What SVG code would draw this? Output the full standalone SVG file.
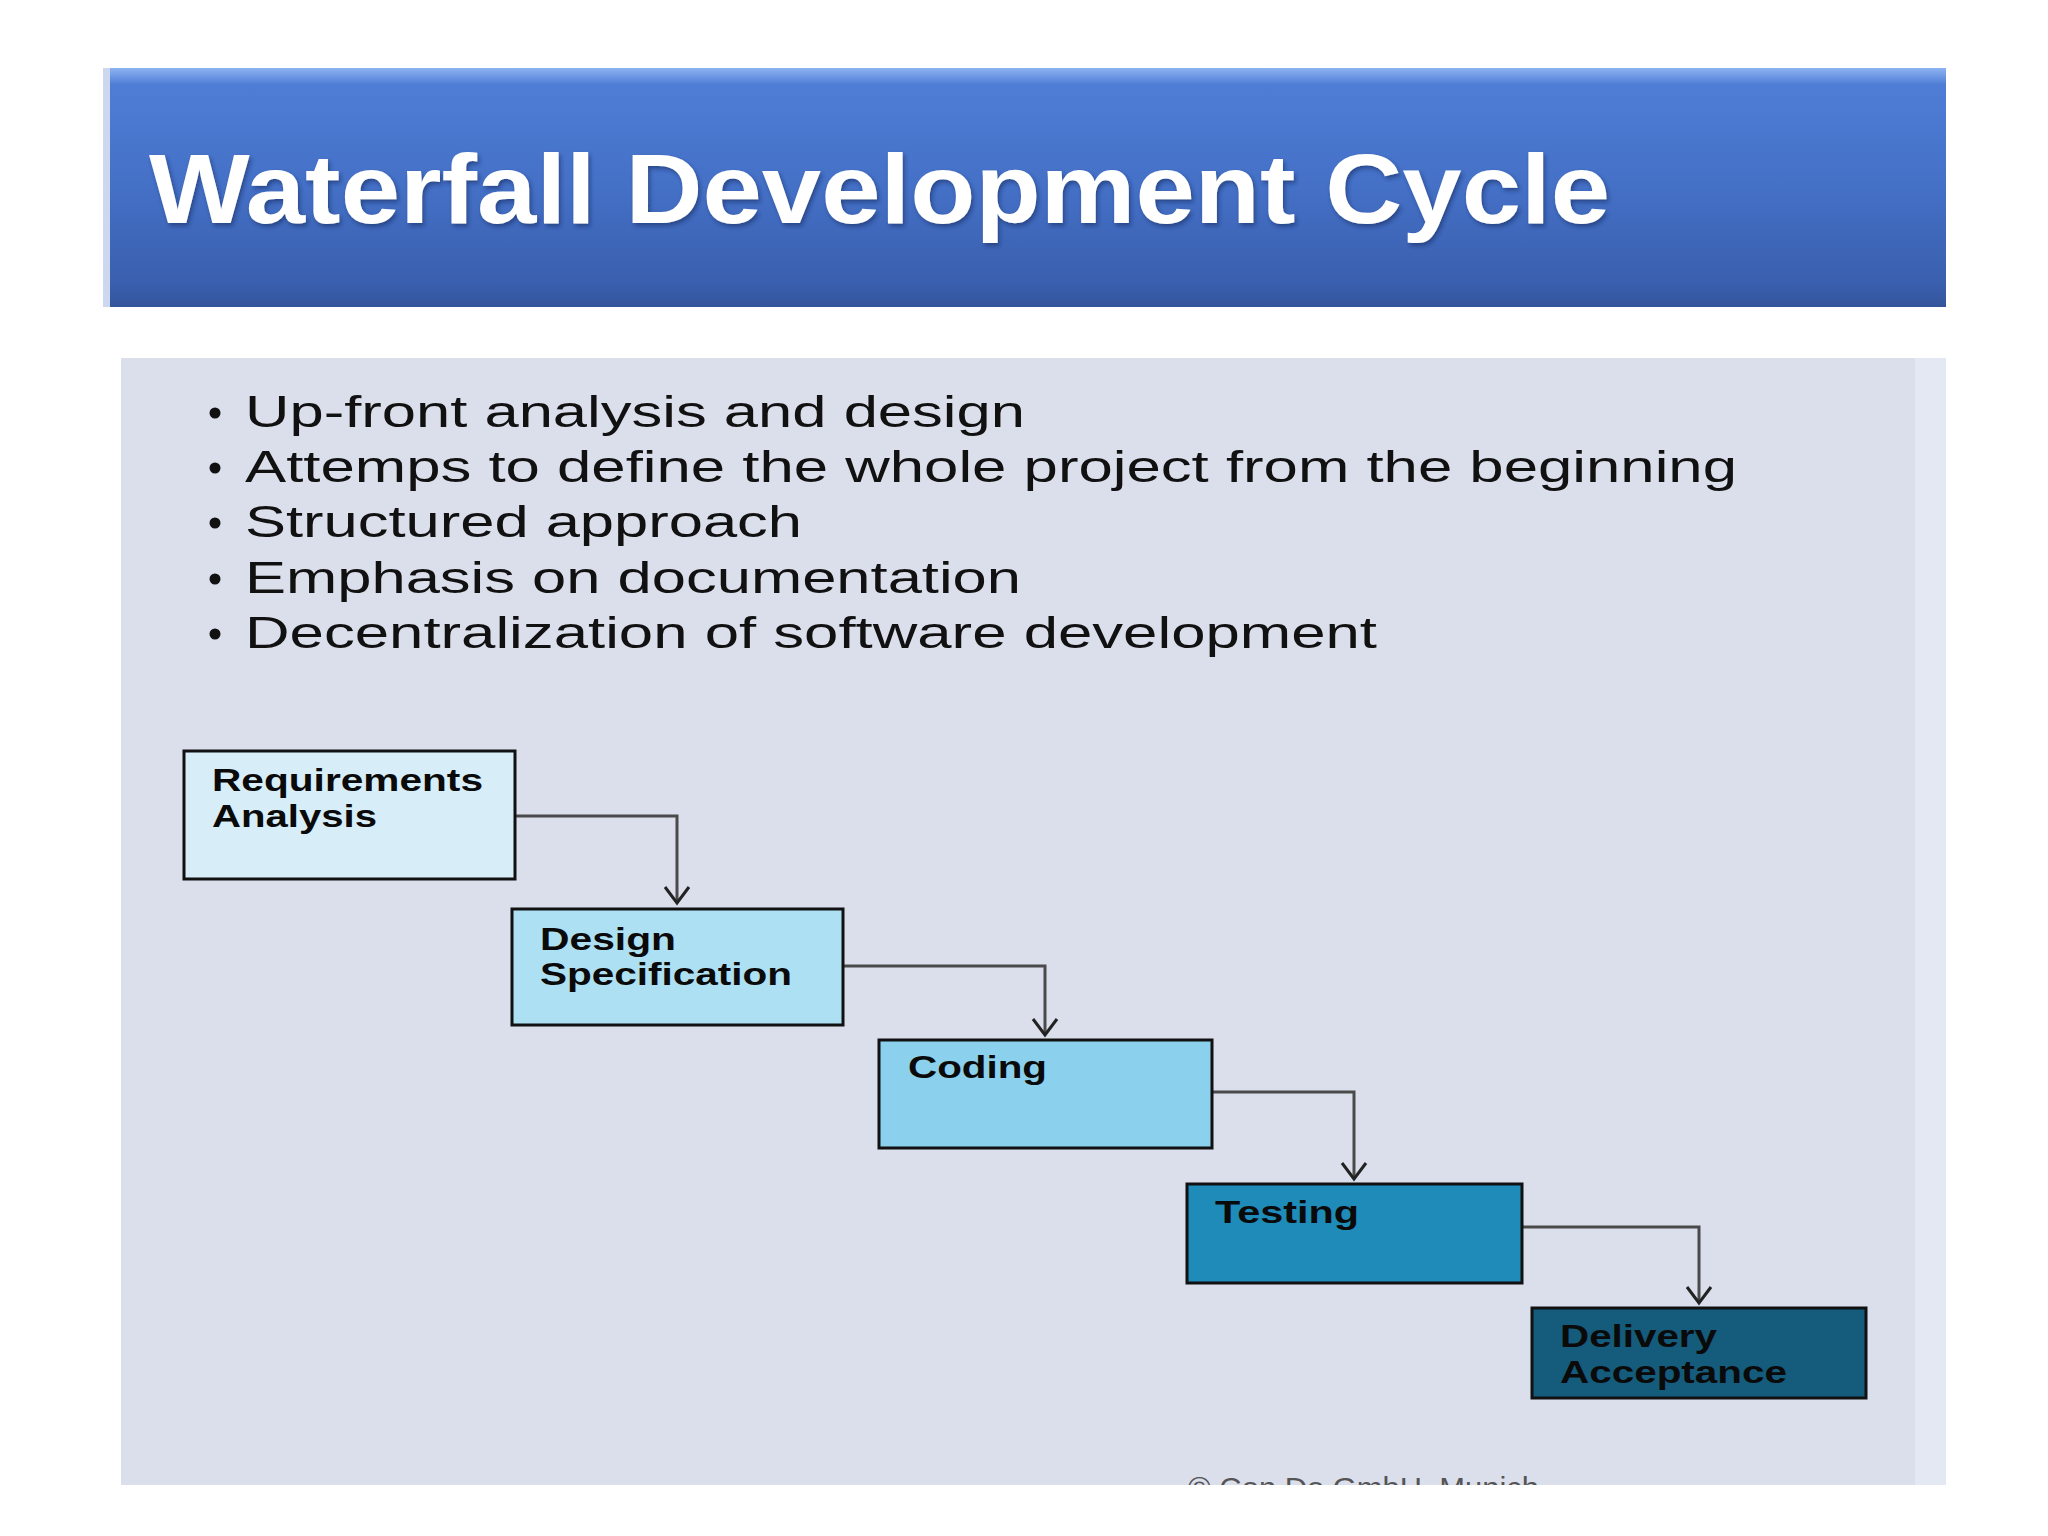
<svg xmlns="http://www.w3.org/2000/svg" width="2048" height="1536" viewBox="0 0 2048 1536">
<defs>
  <linearGradient id="hdr" x1="0" y1="0" x2="0" y2="1">
    <stop offset="0" stop-color="#8db3f2"/>
    <stop offset="0.07" stop-color="#4f7dd6"/>
    <stop offset="0.5" stop-color="#4470c6"/>
    <stop offset="0.9" stop-color="#3a5fae"/>
    <stop offset="1" stop-color="#34559c"/>
  </linearGradient>
  <marker id="arr" viewBox="0 0 24 30" refX="20" refY="15" markerWidth="24" markerHeight="30" markerUnits="userSpaceOnUse" orient="auto">
    <path d="M4,3 L20,15 L4,27" fill="none" stroke="#222" stroke-width="3"/>
  </marker>
  <clipPath id="panelClip"><rect x="121" y="358" width="1825" height="1127"/></clipPath>
  <filter id="shadow" x="-5%" y="-20%" width="110%" height="140%">
    <feGaussianBlur in="SourceAlpha" stdDeviation="2"/>
    <feOffset dx="2" dy="3" result="b"/>
    <feFlood flood-color="#1a2f66" flood-opacity="0.6"/>
    <feComposite in2="b" operator="in"/>
    <feMerge><feMergeNode/><feMergeNode in="SourceGraphic"/></feMerge>
  </filter>
</defs>
<style>
  .bullet { font-family: "Liberation Sans", Arial, sans-serif; font-size: 44px; fill: #111; }
  .node rect { stroke: #111; stroke-width: 3; }
  .node text { font-family: "Liberation Sans", Arial, sans-serif; font-size: 32px; font-weight: bold; fill: #0a0a0a; }
  .conn path { fill: none; stroke: #4a4a4a; stroke-width: 3; }
</style>
<rect width="2048" height="1536" fill="#ffffff"/>

<g id="header">
  <rect x="103" y="68" width="8" height="239" fill="#cdd8ee"/>
  <rect x="110" y="68" width="1836" height="239" fill="url(#hdr)"/>
  <text x="149" y="223" font-family="Liberation Sans, Arial, sans-serif" font-size="98" font-weight="bold" fill="#ffffff" textLength="1461" lengthAdjust="spacingAndGlyphs" filter="url(#shadow)">Waterfall Development Cycle</text>
</g>

<g id="panel">
  <rect x="121" y="358" width="1825" height="1127" fill="#e3e8f2"/>
  <rect x="121" y="358" width="1794" height="1127" fill="#dbdfec"/>
</g>

<g id="bullets">
  <circle cx="215" cy="413" r="5.5" fill="#111"/>
  <text class="bullet" x="245" y="427" textLength="780" lengthAdjust="spacingAndGlyphs">Up-front analysis and design</text>
  <circle cx="215" cy="468" r="5.5" fill="#111"/>
  <text class="bullet" x="245" y="482" textLength="1492" lengthAdjust="spacingAndGlyphs">Attemps to define the whole project from the beginning</text>
  <circle cx="215" cy="523" r="5.5" fill="#111"/>
  <text class="bullet" x="245" y="537" textLength="557" lengthAdjust="spacingAndGlyphs">Structured approach</text>
  <circle cx="215" cy="579" r="5.5" fill="#111"/>
  <text class="bullet" x="245" y="593" textLength="776" lengthAdjust="spacingAndGlyphs">Emphasis on documentation</text>
  <circle cx="215" cy="634" r="5.5" fill="#111"/>
  <text class="bullet" x="245" y="648" textLength="1132" lengthAdjust="spacingAndGlyphs">Decentralization of software development</text>
</g>

<g id="connectors" class="conn">
  <path d="M515,816 H677 V903" marker-end="url(#arr)"/>
  <path d="M843,966 H1045 V1035" marker-end="url(#arr)"/>
  <path d="M1212,1092 H1354 V1179" marker-end="url(#arr)"/>
  <path d="M1508,1227 H1699 V1303" marker-end="url(#arr)"/>
</g>

<g id="node-requirements" class="node">
  <rect x="184" y="751" width="331" height="128" fill="#d7eef9"/>
  <text x="212" y="791" textLength="271" lengthAdjust="spacingAndGlyphs">Requirements</text>
  <text x="212" y="827" textLength="165" lengthAdjust="spacingAndGlyphs">Analysis</text>
</g>

<g id="node-design" class="node">
  <rect x="512" y="909" width="331" height="116" fill="#aee0f3"/>
  <text x="540" y="950" textLength="136" lengthAdjust="spacingAndGlyphs">Design</text>
  <text x="540" y="985" textLength="252" lengthAdjust="spacingAndGlyphs">Specification</text>
</g>

<g id="node-coding" class="node">
  <rect x="879" y="1040" width="333" height="108" fill="#8bd0ec"/>
  <text x="908" y="1078" textLength="139" lengthAdjust="spacingAndGlyphs">Coding</text>
</g>

<g id="node-testing" class="node">
  <rect x="1187" y="1184" width="335" height="99" fill="#1f8bb9"/>
  <text x="1215" y="1223" textLength="144" lengthAdjust="spacingAndGlyphs">Testing</text>
</g>

<g id="node-delivery" class="node">
  <rect x="1532" y="1308" width="334" height="90" fill="#155b7c"/>
  <text x="1560" y="1347" textLength="157" lengthAdjust="spacingAndGlyphs">Delivery</text>
  <text x="1560" y="1383" textLength="227" lengthAdjust="spacingAndGlyphs">Acceptance</text>
</g>

<g id="footer" clip-path="url(#panelClip)">
  <text x="1188" y="1498" font-family="Liberation Sans, Arial, sans-serif" font-size="30" fill="#555" textLength="351" lengthAdjust="spacingAndGlyphs">© Con Do GmbH, Munich</text>
</g>
</svg>
